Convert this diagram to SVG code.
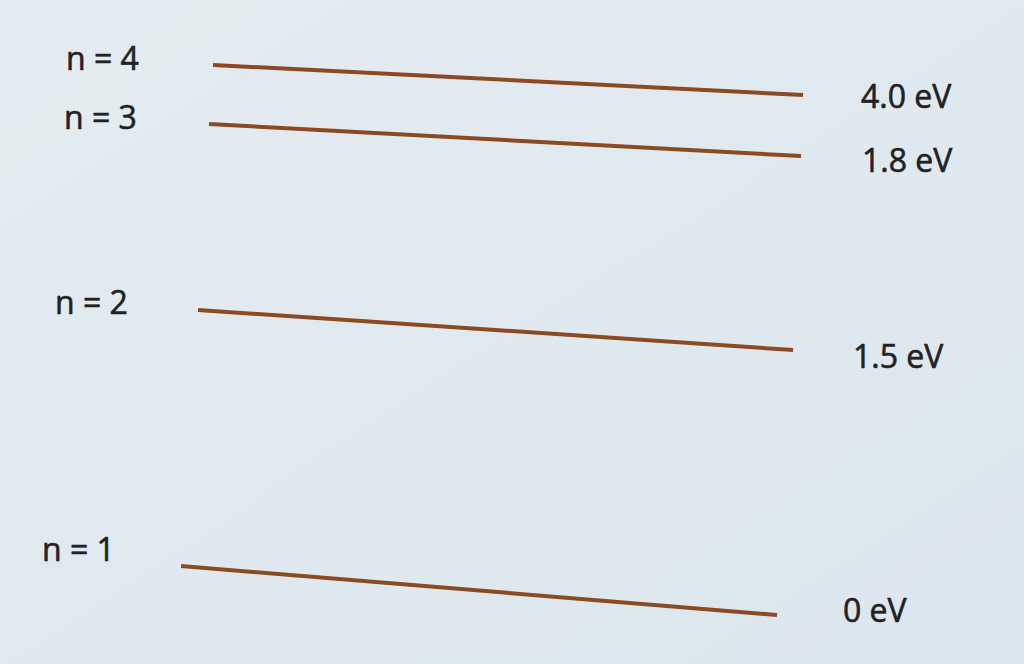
<svg xmlns="http://www.w3.org/2000/svg" width="1024" height="664" viewBox="0 0 1024 664">
<style>
.lvl{stroke:#8c4a22;stroke-width:4;stroke-linecap:butt;fill:none}
.t{font-family:"Open Sans","Noto Sans",sans-serif;font-size:32px;fill:#222;stroke:#222;stroke-width:0.6}
</style>
<defs>
<linearGradient id="bg" x1="0" y1="0" x2="1" y2="1">
<stop offset="0" stop-color="#e4ecf0"/>
<stop offset="1" stop-color="#dce6ee"/>
</linearGradient>
</defs>
<rect width="1024" height="664" fill="url(#bg)"/>
<g id="connectors">
<line class="lvl" x1="213" y1="65" x2="803" y2="95"/>
<line class="lvl" x1="209" y1="124" x2="801" y2="156"/>
<line class="lvl" x1="198" y1="310" x2="793" y2="350"/>
<line class="lvl" x1="181" y1="566" x2="777" y2="615"/>
</g>
<g id="n4"><text class="t" x="66" y="70">n = 4</text><text class="t" x="861" y="108">4.0 eV</text></g>
<g id="n3"><text class="t" x="64" y="129">n = 3</text><text class="t" x="862" y="172">1.8 eV</text></g>
<g id="n2"><text class="t" x="55" y="314">n = 2</text><text class="t" x="853" y="368">1.5 eV</text></g>
<g id="n1"><text class="t" x="42" y="561">n = 1</text><text class="t" x="843" y="622">0 eV</text></g>
</svg>
